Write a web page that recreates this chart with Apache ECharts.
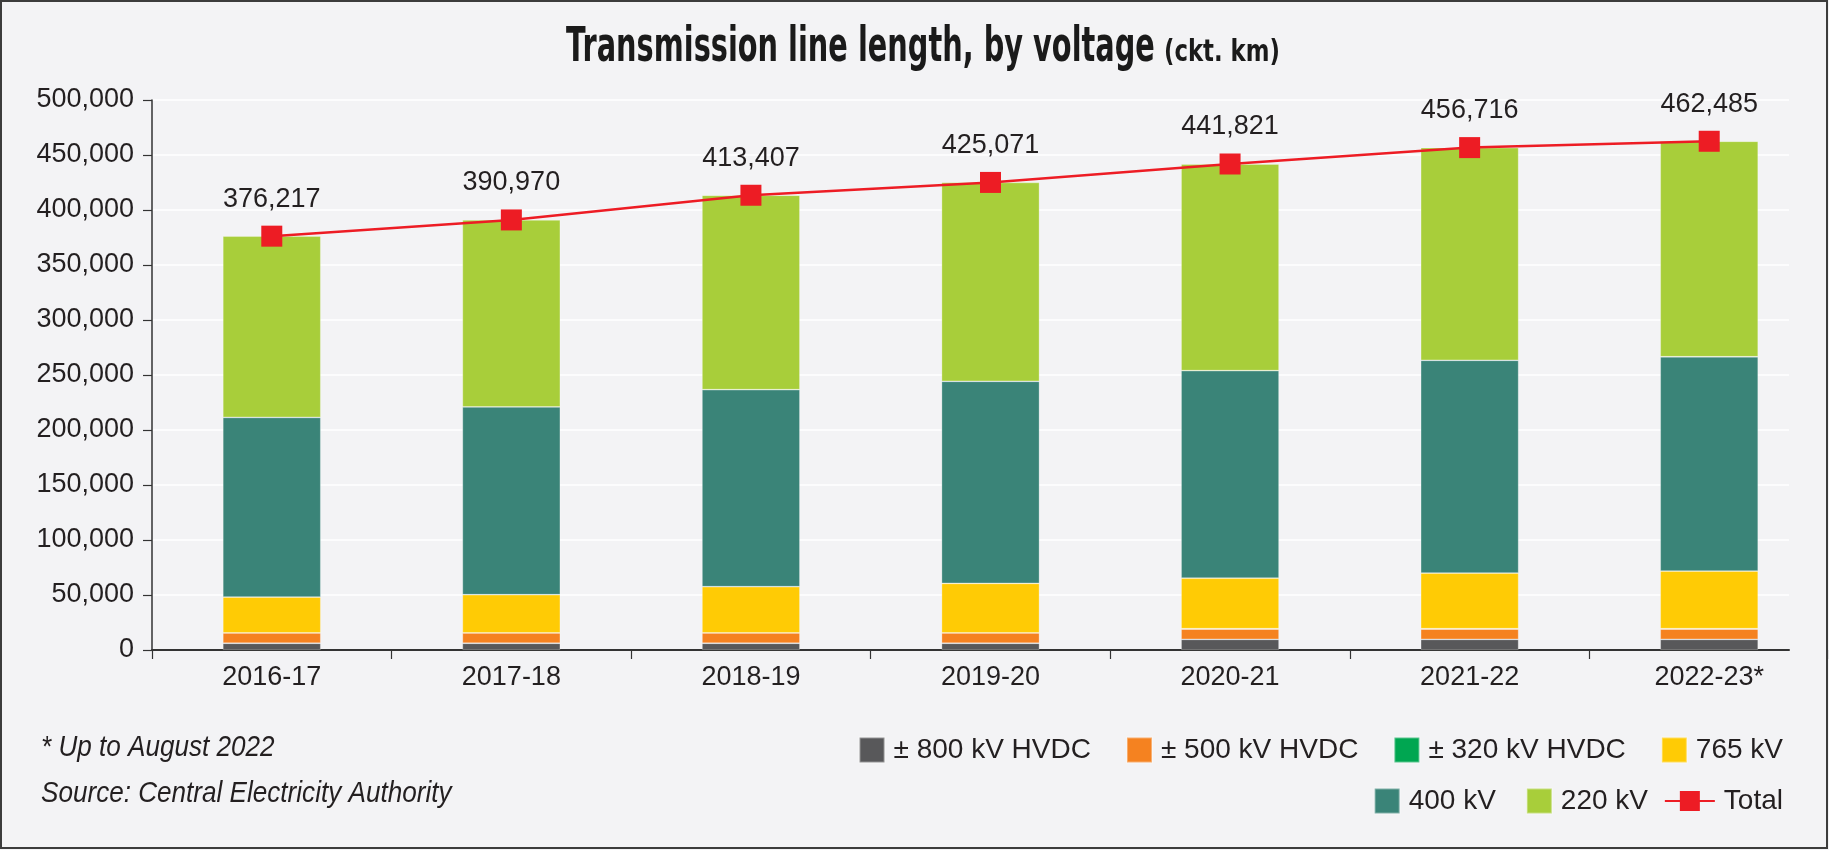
<!DOCTYPE html>
<html>
<head>
<meta charset="utf-8">
<title>Transmission line length, by voltage</title>
<script src="https://cdn.jsdelivr.net/npm/echarts@6.0.0/dist/echarts.min.js"></script>
<style>
  html, body { margin: 0; padding: 0; background: #f3f3f5; }
  #main { width: 1829px; height: 850px; }
</style>
</head>
<body>
<div id="main"></div>
<script>
// ckt. km
var years = ['2016-17', '2017-18', '2018-19', '2019-20', '2020-21', '2021-22', '2022-23*'];
var hvdc800 = [6124, 6124, 6124, 6124, 9655, 9655, 9655];
var hvdc500 = [9432, 9432, 9432, 9432, 9432, 9432, 9432];
var hvdc320 = [0, 0, 0, 0, 288, 288, 288];
var kv765 = [32600, 34700, 42000, 45000, 45900, 50600, 52400];
var kv400 = [163300, 170700, 179100, 183700, 188700, 193400, 194800];
var kv220 = [164761, 170014, 176751, 180815, 187846, 193341, 195910];
var totals = [376217, 390970, 413407, 425071, 441821, 456716, 462485];

var FONT = "'Liberation Sans', Arial, sans-serif";
var TXT = '#231f20';

function fmt(v) {
  return Number(v).toLocaleString('en-US');
}

function barSeries(name, data, color) {
  return {
    name: name,
    type: 'bar',
    stack: 'len',
    barWidth: 98,
    data: data,
    itemStyle: {
      color: color,
      borderColor: 'rgba(255,255,255,0.35)',
      borderWidth: 0.8
    },
    emphasis: { disabled: true }
  };
}

var legendText = { fontSize: 28, color: TXT, fontFamily: FONT, padding: [0, 0, 0, 4] };

var chart = echarts.init(document.getElementById('main'));

var option = {
  backgroundColor: '#f3f3f5',
  animation: false,
  textStyle: { fontFamily: FONT },
  legend: [
    {
      data: ['± 800 kV HVDC', '± 500 kV HVDC', '± 320 kV HVDC', '765 kV'],
      right: 41,
      top: 731,
      icon: 'rect',
      itemWidth: 25,
      itemHeight: 25,
      itemGap: 35,
      textStyle: legendText
    },
    {
      data: ['400 kV', '220 kV'],
      right: 176,
      top: 782,
      icon: 'rect',
      itemWidth: 25,
      itemHeight: 25,
      itemGap: 30,
      textStyle: legendText
    },
    {
      data: ['Total'],
      right: 41,
      top: 782,
      itemWidth: 50,
      itemHeight: 25,
      textStyle: legendText
    }
  ],
  grid: [
    { left: 152, top: 100, width: 1683, height: 550 },
    { left: 152, top: 100, width: 1637, height: 550 }
  ],
  xAxis: [
    {
      type: 'category',
      gridIndex: 0,
      data: years,
      axisLine: { show: false },
      axisTick: { show: true, length: 9, lineStyle: { color: '#333', width: 1.2 } },
      axisLabel: { fontSize: 27, color: TXT, margin: 14, fontFamily: FONT }
    },
    {
      // only carries the bottom axis line, which stops short of the last category
      type: 'value',
      gridIndex: 1,
      min: 0,
      max: 1,
      axisLine: { show: true, lineStyle: { color: '#333', width: 2 } },
      axisTick: { show: false },
      axisLabel: { show: false },
      splitLine: { show: false }
    }
  ],
  yAxis: [
    {
      type: 'value',
      gridIndex: 0,
      min: 0,
      max: 500000,
      show: false
    },
    {
      type: 'value',
      gridIndex: 1,
      min: 0,
      max: 500000,
      interval: 50000,
      axisLine: { show: true, lineStyle: { color: '#333', width: 1.5 } },
      axisTick: { show: true, length: 9, lineStyle: { color: '#333', width: 1.2 } },
      axisLabel: { fontSize: 27, color: TXT, margin: 18, fontFamily: FONT, formatter: fmt },
      splitLine: { show: true, lineStyle: { color: '#ffffff', width: 1.5 } }
    }
  ],
  series: [
    barSeries('± 800 kV HVDC', hvdc800, '#58585a'),
    barSeries('± 500 kV HVDC', hvdc500, '#f58220'),
    barSeries('± 320 kV HVDC', hvdc320, '#00a651'),
    barSeries('765 kV', kv765, '#ffcb05'),
    barSeries('400 kV', kv400, '#3a8478'),
    barSeries('220 kV', kv220, '#a8ce3a'),
    {
      name: 'Total',
      type: 'line',
      data: totals,
      z: 5,
      symbol: 'rect',
      symbolSize: 21,
      lineStyle: { color: '#ed1c24', width: 2.5 },
      itemStyle: { color: '#ed1c24' },
      label: {
        show: true,
        position: 'top',
        distance: 13,
        fontSize: 27,
        color: TXT,
        fontFamily: FONT,
        formatter: function (p) { return fmt(p.value); }
      },
      emphasis: { disabled: true }
    }
  ],
  graphic: [
    {
      type: 'rect',
      silent: true,
      shape: { x: 1, y: 1, width: 1826, height: 847 },
      style: { fill: null, stroke: '#3c3c3c', lineWidth: 2 }
    },
    // title: heavy condensed look by squeezing a bold face
    {
      type: 'text',
      x: 566,
      y: 49,
      scaleX: 0.6,
      style: {
        text: 'Transmission line length, by voltage',
        fontFamily: "'DejaVu Sans', sans-serif",
        fontWeight: 'bold',
        fontSize: 48,
        fill: '#1a1a1a',
        verticalAlign: 'middle'
      }
    },
    {
      type: 'text',
      x: 1164,
      y: 53,
      scaleX: 0.76,
      style: {
        text: '(ckt. km)',
        fontFamily: "'DejaVu Sans', sans-serif",
        fontWeight: 'bold',
        fontSize: 30,
        fill: '#1a1a1a',
        verticalAlign: 'middle'
      }
    },
    {
      type: 'text',
      x: 41,
      y: 748,
      scaleX: 0.87,
      style: { text: '* Up to August 2022', fontSize: 30, fontStyle: 'italic', fontFamily: FONT, fill: TXT, verticalAlign: 'middle' }
    },
    {
      type: 'text',
      x: 41,
      y: 794,
      scaleX: 0.87,
      style: { text: 'Source: Central Electricity Authority', fontSize: 30, fontStyle: 'italic', fontFamily: FONT, fill: TXT, verticalAlign: 'middle' }
    }
  ]
};

chart.setOption(option);
</script>
</body>
</html>
